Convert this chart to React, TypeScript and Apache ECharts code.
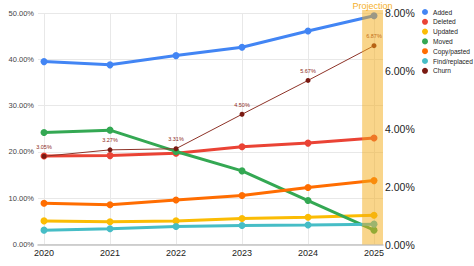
import React, { useEffect, useRef } from "react";
import * as echarts from "echarts";

const years = [2020, 2021, 2022, 2023, 2024, 2025];
const seriesNames = ["Added", "Deleted", "Updated", "Moved", "Copy/pasted", "Find/replaced"];
const added = [39.5, 38.8, 40.8, 42.6, 46.1, 49.4];
const deleted = [19.1, 19.2, 19.7, 21.1, 21.9, 23.0];
const updated = [5.1, 4.9, 5.1, 5.6, 5.9, 6.3];
const moved = [24.2, 24.7, 20.1, 15.9, 9.5, 3.1];
const copyPasted = [8.9, 8.6, 9.6, 10.6, 12.3, 13.8];
const findReplaced = [3.1, 3.4, 3.9, 4.1, 4.2, 4.4];
const churn = [3.05, 3.27, 3.31, 4.5, 5.67, 6.87];
const leftTicks = [0, 10, 20, 30, 40, 50];
const rightTicks = [0, 2, 4, 6, 8];

const colors = ["#4285F4", "#EA4335", "#FBBC04", "#34A853", "#FF6D01", "#46BDC6"];
const churnColor = "#7a1a12";
const FONT = "'Liberation Sans', Arial, sans-serif";

// Projection year span on the x axis
const projectionStart = 2024.82;
const projectionEnd = 2025.136;

export default function App() {
  const ref = useRef<HTMLDivElement>(null);

  useEffect(() => {
    if (!ref.current) return;
    const chart = echarts.init(ref.current, undefined, { renderer: "svg" });
    const mainData = [added, deleted, updated, moved, copyPasted, findReplaced];

    const lineSeries = mainData.map((vals, i) => ({
      name: seriesNames[i],
      type: "line",
      yAxisIndex: 0,
      data: vals.map((v, j) => [years[j], v]),
      symbol: "circle",
      symbolSize: 7,
      lineStyle: { width: 3, color: colors[i] },
      itemStyle: { color: colors[i] },
      z: 2 + i,
    }));

    chart.setOption({
      animation: false,
      textStyle: { fontFamily: FONT },
      grid: { left: 38, right: 91, top: 13, bottom: 21.5, containLabel: false },
      legend: {
        orient: "vertical",
        left: 422,
        top: 8,
        padding: 0,
        icon: "circle",
        itemWidth: 6,
        itemHeight: 6,
        itemGap: 1.8,
        textStyle: { fontSize: 6.6, lineHeight: 8, color: "#222", fontFamily: FONT },
        data: [...seriesNames, "Churn"],
      },
      xAxis: {
        type: "value",
        min: 2019.909,
        max: 2025.136,
        axisLine: { show: true, lineStyle: { color: "#c4c4c4", width: 1.5 } },
        axisTick: { show: false, customValues: years },
        axisLabel: {
          customValues: years,
          fontSize: 9,
          color: "#222",
          margin: 4,
          formatter: (v: number) => String(Math.round(v)),
        },
        splitLine: { show: true, lineStyle: { color: "#e8e8e8", width: 1 } },
      },
      yAxis: [
        {
          type: "value",
          min: 0,
          max: 50,
          interval: 10,
          axisLine: { show: false },
          axisTick: { show: false },
          axisLabel: {
            fontSize: 7.5,
            color: "#444",
            margin: 4,
            customValues: leftTicks,
            formatter: (v: number) => v.toFixed(2) + "%",
          },
          splitLine: { lineStyle: { color: "#e8e8e8", width: 1 } },
        },
        {
          type: "value",
          min: 0,
          max: 8,
          interval: 2,
          position: "right",
          axisLine: { show: false },
          axisTick: { show: false },
          axisLabel: {
            fontSize: 10.5,
            color: "#222",
            margin: 2,
            customValues: rightTicks,
            formatter: (v: number) => v.toFixed(2) + "%",
          },
          splitLine: { show: false },
        },
      ],
      series: [
        ...lineSeries,
        {
          name: "Churn",
          type: "line",
          yAxisIndex: 1,
          data: churn.map((v, j) => [years[j], v]),
          symbol: "circle",
          symbolSize: 5,
          lineStyle: { width: 1, color: "#8e3328" },
          itemStyle: { color: churnColor },
          label: {
            show: true,
            position: "top",
            distance: 4,
            fontSize: 5.5,
            color: "#8e2a20",
            formatter: (p: any) => p.value[1].toFixed(2) + "%",
          },
          z: 10,
        },
      ],
    });

    // Highlight band over the projected year, laid out from the axis scale
    const x0 = chart.convertToPixel({ xAxisIndex: 0 }, projectionStart) as number;
    const x1 = chart.convertToPixel({ xAxisIndex: 0 }, projectionEnd) as number;
    const yBottom = chart.convertToPixel({ yAxisIndex: 0 }, 0) as number;
    const yTop = chart.convertToPixel({ yAxisIndex: 0 }, 50) as number;
    chart.setOption({
      graphic: [
        {
          type: "rect",
          z: 100,
          silent: true,
          shape: { x: x0, y: yTop - 3, width: x1 - x0, height: yBottom - yTop + 3 },
          style: { fill: "rgba(243,171,21,0.5)" },
        },
        {
          type: "text",
          z: 101,
          x: (x0 + x1) / 2,
          y: yTop - 7,
          style: {
            text: "Projection",
            fill: "#F5B02A",
            fontSize: 9,
            fontFamily: FONT,
            align: "center",
            verticalAlign: "middle",
          },
        },
      ],
    });

    return () => chart.dispose();
  }, []);

  return (
    <div
      ref={ref}
      style={{ position: "fixed", left: 0, top: 0, width: 474, height: 266, background: "#fff" }}
    />
  );
}
